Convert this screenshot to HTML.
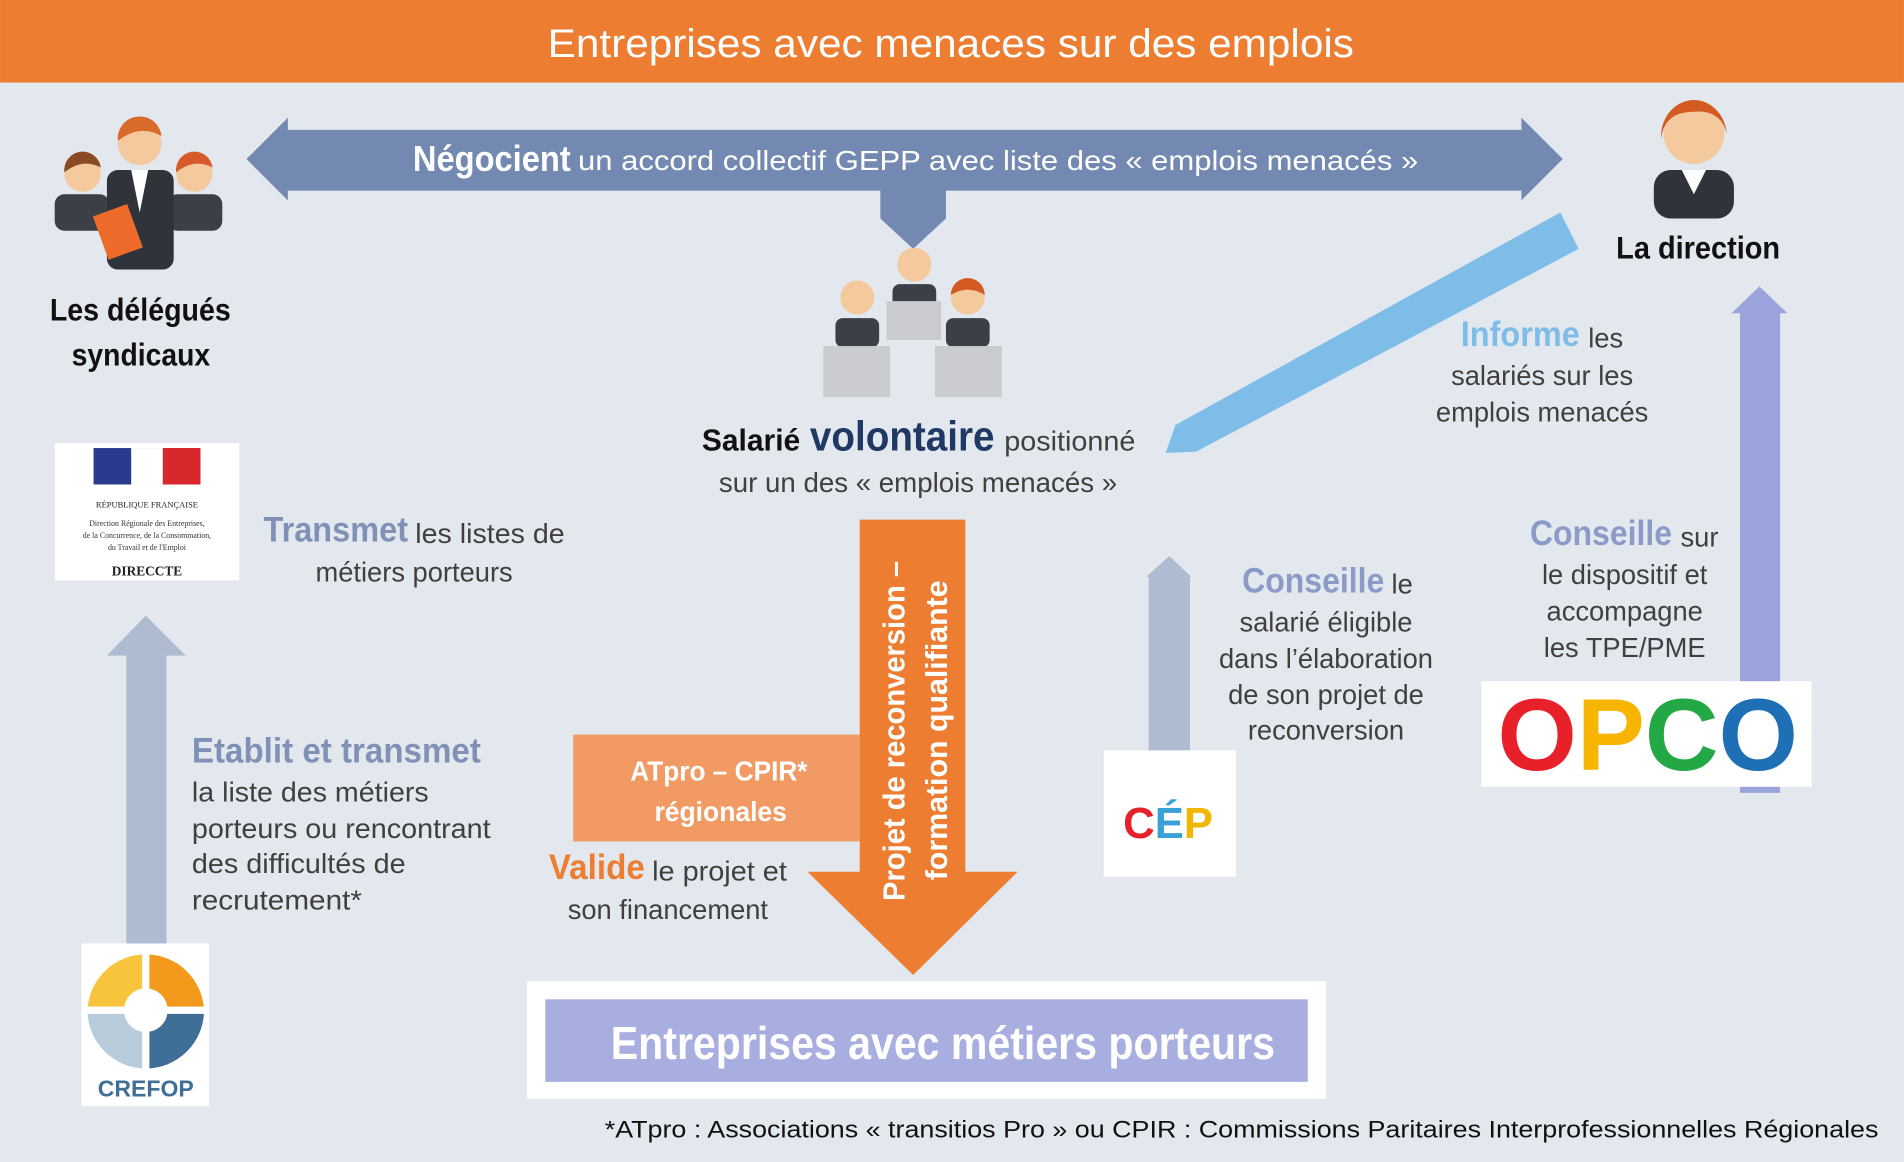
<!DOCTYPE html>
<html><head><meta charset="utf-8"><style>
html,body{margin:0;padding:0;background:#e3e7ee;}
svg{display:block}
.c{font-family:"Liberation Sans Narrow","Liberation Sans",sans-serif;font-weight:bold}
.n{font-family:"Liberation Sans",sans-serif}
.b{font-family:"Liberation Sans",sans-serif;font-size:22.5px;fill:#404040}
</style></head><body>
<svg width="1904" height="1162" viewBox="0 0 1568 957" xmlns="http://www.w3.org/2000/svg">
<rect width="1568" height="957" fill="#e3e7ee"/>
<rect width="1568" height="68" fill="#ed7d31"/>
<text x="451" y="47" class="n" font-size="33" fill="#fff" textLength="664" lengthAdjust="spacingAndGlyphs">Entreprises avec menaces sur des emplois</text>

<!-- double arrow -->
<polygon points="203,131 237,97 237,107 1253,107 1253,97 1287,131 1253,165 1253,157 779,157 779,180 752,205 725,180 725,157 237,157 237,165" fill="#7389b1"/>
<text x="340" y="141" class="c" font-size="30" fill="#fff" textLength="130" lengthAdjust="spacingAndGlyphs">Négocient</text>
<text x="476" y="140" class="n" font-size="23" fill="#fff" textLength="692" lengthAdjust="spacingAndGlyphs">un accord collectif GEPP avec liste des « emplois menacés »</text>

<!-- people left -->
<g>
<circle cx="68" cy="143" r="15" fill="#f4c99d"/><path d="M53,142 a15,15 0 0 1 30,-4 q-15,-8 -30,4z" fill="#8a4a24"/>
<rect x="45" y="160" width="45" height="30" rx="8" fill="#3b3f47"/>
<circle cx="160" cy="143" r="15" fill="#f4c99d"/><path d="M145,142 a15,15 0 0 1 30,-4 q-15,-8 -30,4z" fill="#d65a2a"/>
<rect x="138" y="160" width="45" height="30" rx="8" fill="#3b3f47"/>
<circle cx="115" cy="118" r="18" fill="#f4c99d"/><path d="M97,116 a18,18 0 0 1 36,-4 q-18,-10 -36,4z" fill="#d86a2a"/>
<rect x="88" y="140" width="55" height="82" rx="9" fill="#2f333a"/>
<polygon points="108,140 122,140 115,175" fill="#fff"/>
<rect x="82" y="172" width="30" height="38" fill="#ed6b2a" transform="rotate(-20 97 191)"/>
</g>
<text x="41" y="264" class="c" font-size="26" fill="#111" textLength="149" lengthAdjust="spacingAndGlyphs">Les délégués</text>
<text x="59" y="301" class="c" font-size="26" fill="#111" textLength="114" lengthAdjust="spacingAndGlyphs">syndicaux</text>

<!-- direction person -->
<circle cx="1395" cy="110" r="25" fill="#f4c99d"/>
<path d="M1368,115 a27,30 0 0 1 54,-5 q-5,-20 -27,-18 q-25,0 -27,23z" fill="#d35a23"/>
<rect x="1362" y="140" width="66" height="40" rx="14" fill="#2f333a"/>
<polygon points="1385,140 1405,140 1395,160" fill="#fff"/>
<text x="1331" y="213" class="c" font-size="26" fill="#111" textLength="135" lengthAdjust="spacingAndGlyphs">La direction</text>

<!-- middle people -->
<g>
<circle cx="706" cy="245" r="14" fill="#f4c99d"/><rect x="688" y="262" width="36" height="24" rx="6" fill="#3b3f47"/>
<rect x="678" y="285" width="55" height="42" fill="#c9cbcf"/>
<circle cx="753" cy="218" r="14" fill="#f4c99d"/><rect x="735" y="234" width="36" height="24" rx="6" fill="#3b3f47"/>
<rect x="730" y="248" width="45" height="32" fill="#c9cbcf"/>
<circle cx="797" cy="245" r="14" fill="#f4c99d"/><path d="M783,243 a14,14 0 0 1 28,0 q-14,-9 -28,0z" fill="#d35a23"/><rect x="779" y="262" width="36" height="24" rx="6" fill="#3b3f47"/>
<rect x="770" y="285" width="55" height="42" fill="#c9cbcf"/>
</g>
<text x="578" y="371" class="c" font-size="25" fill="#111" textLength="81" lengthAdjust="spacingAndGlyphs">Salarié</text>
<text x="667" y="371" class="c" font-size="34" fill="#1f3864" textLength="152" lengthAdjust="spacingAndGlyphs">volontaire</text>
<text x="827" y="371" class="b" textLength="108" lengthAdjust="spacingAndGlyphs">positionné</text>
<text x="592" y="405" class="b" textLength="328" lengthAdjust="spacingAndGlyphs">sur un des « emplois menacés »</text>

<!-- blue diagonal -->
<polygon points="1285,175 1300,205 985,372 960,373 968,350" fill="#7dbde8"/>
<text x="1203" y="285" class="c" font-size="29" fill="#7dbde8" textLength="98" lengthAdjust="spacingAndGlyphs">Informe</text>
<text x="1308" y="286" class="b">les</text>
<text x="1270" y="317" text-anchor="middle" class="b">salariés sur les</text>
<text x="1270" y="347" text-anchor="middle" class="b">emplois menacés</text>

<!-- purple up arrow -->
<polygon points="1433,653 1433,258 1426,258 1449,236 1472,258 1466,258 1466,653" fill="#9ba3dc"/>
<text x="1260" y="449" class="c" font-size="29" fill="#8a9bc7" textLength="117" lengthAdjust="spacingAndGlyphs">Conseille</text>
<text x="1384" y="450" class="b">sur</text>
<text x="1338" y="481" text-anchor="middle" class="b">le dispositif et</text>
<text x="1338" y="511" text-anchor="middle" class="b">accompagne</text>
<text x="1338" y="541" text-anchor="middle" class="b">les TPE/PME</text>
<rect x="1220" y="561" width="272" height="87" fill="#fff"/>
<text x="1357" y="634" text-anchor="middle" class="n" font-weight="bold" font-size="84"><tspan fill="#e8202a">O</tspan><tspan fill="#f7b500">P</tspan><tspan fill="#24a846">C</tspan><tspan fill="#1e6fb5">O</tspan></text>

<!-- CEP arrow -->
<polygon points="946,618 946,475 944,475 963,458 981,475 980,475 980,618" fill="#aebbd0"/>
<text x="1023" y="488" class="c" font-size="29" fill="#8a9bc7" textLength="117" lengthAdjust="spacingAndGlyphs">Conseille</text>
<text x="1146" y="489" class="b">le</text>
<text x="1092" y="520" text-anchor="middle" class="b">salarié éligible</text>
<text x="1092" y="550" text-anchor="middle" class="b">dans l’élaboration</text>
<text x="1092" y="580" text-anchor="middle" class="b">de son projet de</text>
<text x="1092" y="609" text-anchor="middle" class="b">reconversion</text>
<rect x="909" y="618" width="109" height="104" fill="#fff"/>
<text x="962" y="690" text-anchor="middle" class="n" font-weight="bold" font-size="36"><tspan fill="#e8202a">C</tspan><tspan fill="#3aa0d8">É</tspan><tspan fill="#f2b600">P</tspan></text>

<!-- orange down arrow -->
<polygon points="708,428 795,428 795,718 838,718 752,803 665,718 708,718" fill="#ed7d31"/>
<text transform="translate(745,742) rotate(-90)" class="c" font-size="25" fill="#fff" textLength="280" lengthAdjust="spacingAndGlyphs">Projet de reconversion –</text>
<text transform="translate(780,725) rotate(-90)" class="c" font-size="25" fill="#fff" textLength="247" lengthAdjust="spacingAndGlyphs">formation qualifiante</text>
<rect x="472" y="605" width="236" height="88" fill="#f29a63"/>
<text x="519" y="643" class="c" font-size="23" fill="#fff" textLength="146" lengthAdjust="spacingAndGlyphs">ATpro – CPIR*</text>
<text x="539" y="676" class="c" font-size="23" fill="#fff" textLength="109" lengthAdjust="spacingAndGlyphs">régionales</text>
<text x="452" y="724" class="c" font-size="29" fill="#ed7d31" textLength="79" lengthAdjust="spacingAndGlyphs">Valide</text>
<text x="537" y="725" class="b" textLength="111" lengthAdjust="spacingAndGlyphs">le projet et</text>
<text x="550" y="757" text-anchor="middle" class="b">son financement</text>

<!-- DIRECCTE -->
<rect x="45" y="365" width="152" height="113" fill="#fff"/>
<rect x="77" y="369" width="88" height="30" fill="#2b3a8c"/><rect x="121" y="369" width="44" height="30" fill="#d8282c"/><rect x="108" y="369" width="26" height="30" fill="#fff"/>
<text x="121" y="418" text-anchor="middle" font-family="Liberation Serif,serif" font-size="7" fill="#222">RÉPUBLIQUE FRANÇAISE</text>
<text x="121" y="433" text-anchor="middle" font-family="Liberation Serif,serif" font-size="6.5" fill="#333">Direction Régionale des Entreprises,</text>
<text x="121" y="443" text-anchor="middle" font-family="Liberation Serif,serif" font-size="6.5" fill="#333">de la Concurrence, de la Consommation,</text>
<text x="121" y="453" text-anchor="middle" font-family="Liberation Serif,serif" font-size="6.5" fill="#333">du Travail et de l'Emploi</text>
<text x="121" y="474" text-anchor="middle" font-family="Liberation Serif,serif" font-weight="bold" font-size="11" fill="#222">DIRECCTE</text>
<text x="217" y="446" class="c" font-size="29" fill="#7f92b5" textLength="119" lengthAdjust="spacingAndGlyphs">Transmet</text>
<text x="342" y="447" class="b" textLength="123" lengthAdjust="spacingAndGlyphs">les listes de</text>
<text x="341" y="479" text-anchor="middle" class="b">métiers porteurs</text>

<!-- left arrow -->
<polygon points="104,777 104,540 88,540 120,507 153,540 137,540 137,777" fill="#aebbd0"/>
<text x="158" y="628" class="c" font-size="29" fill="#7f92b5" textLength="238" lengthAdjust="spacingAndGlyphs">Etablit et transmet</text>
<text x="158" y="660" class="b" textLength="195" lengthAdjust="spacingAndGlyphs">la liste des métiers</text>
<text x="158" y="690" class="b" textLength="246" lengthAdjust="spacingAndGlyphs">porteurs ou rencontrant</text>
<text x="158" y="719" class="b" textLength="176" lengthAdjust="spacingAndGlyphs">des difficultés de</text>
<text x="158" y="749" class="b" textLength="140" lengthAdjust="spacingAndGlyphs">recrutement*</text>

<!-- CREFOP -->
<rect x="67" y="777" width="105" height="134" fill="#fff"/>
<path d="M120,832 L120,786 A48,48 0 0 0 72,832Z" fill="#f7c43b"/>
<path d="M120,832 L120,786 A48,48 0 0 1 168,832Z" fill="#f39a1d"/>
<path d="M120,832 L72,832 A48,48 0 0 0 120,880Z" fill="#b9ccdc"/>
<path d="M120,832 L168,832 A48,48 0 0 1 120,880Z" fill="#3f6f96"/>
<rect x="117" y="784" width="6" height="98" fill="#fff"/><rect x="70" y="829" width="100" height="6" fill="#fff"/>
<circle cx="120" cy="832" r="18" fill="#fff"/>
<text x="120" y="903" text-anchor="middle" class="n" font-weight="bold" font-size="19" fill="#3f6f96">CREFOP</text>

<!-- bottom box -->
<rect x="434" y="808" width="658" height="97" fill="#fff"/>
<rect x="449" y="823" width="628" height="68" fill="#a9aee0"/>
<text x="503" y="872" class="c" font-size="38" fill="#fff" textLength="547" lengthAdjust="spacingAndGlyphs">Entreprises avec métiers porteurs</text>
<text x="498" y="937" class="n" font-size="20" fill="#111" textLength="1049" lengthAdjust="spacingAndGlyphs">*ATpro : Associations « transitios Pro » ou CPIR : Commissions Paritaires Interprofessionnelles Régionales</text>
</svg>
</body></html>
